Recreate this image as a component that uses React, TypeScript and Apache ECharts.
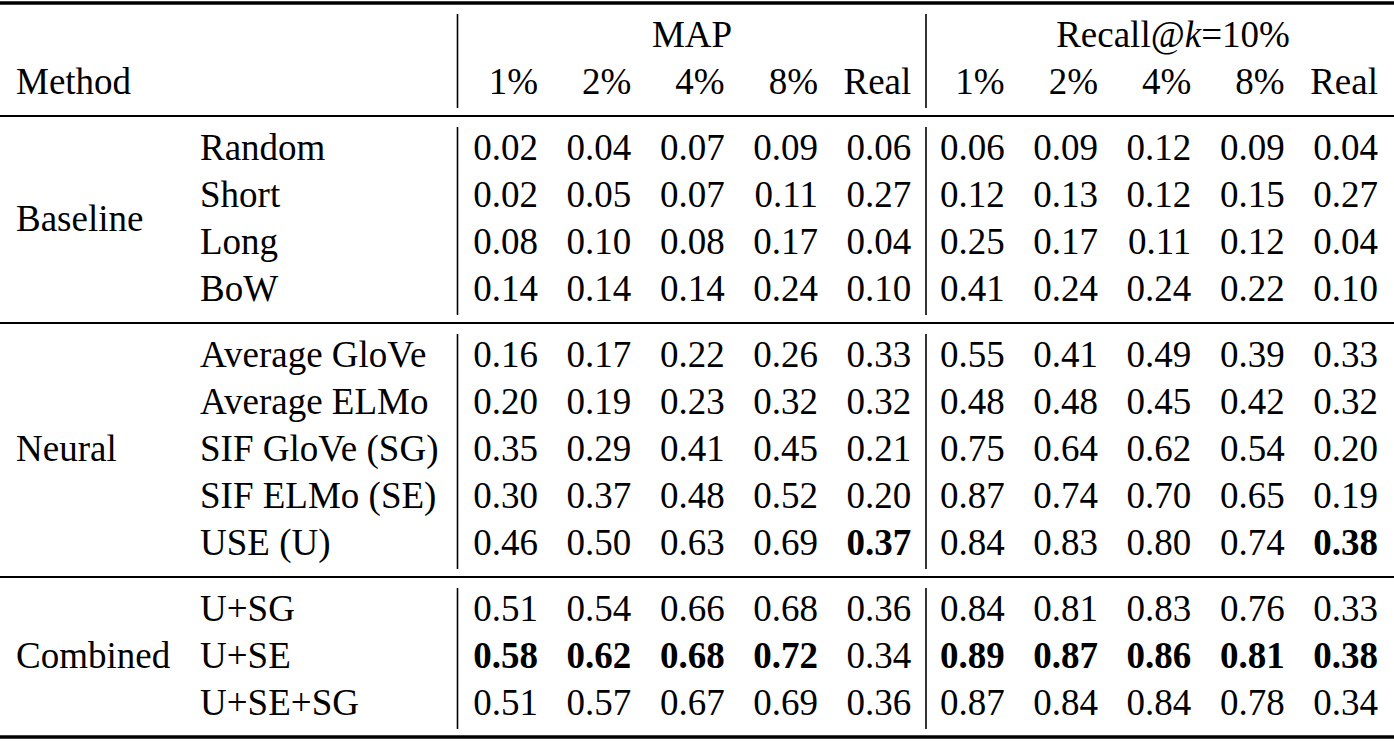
import React, { useEffect, useRef } from 'react';
import * as echarts from 'echarts';

// ---- table content ----
const groupNames = ['Baseline', 'Neural', 'Combined'];
const groupSizes = [4, 5, 3];
const methodNames = [
  'Random', 'Short', 'Long', 'BoW',
  'Average GloVe', 'Average ELMo', 'SIF GloVe (SG)', 'SIF ELMo (SE)', 'USE (U)',
  'U+SG', 'U+SE', 'U+SE+SG',
];
const columnLabels = ['1%', '2%', '4%', '8%', 'Real'];

const mapValues = [
  [0.02, 0.04, 0.07, 0.09, 0.06],
  [0.02, 0.05, 0.07, 0.11, 0.27],
  [0.08, 0.10, 0.08, 0.17, 0.04],
  [0.14, 0.14, 0.14, 0.24, 0.10],
  [0.16, 0.17, 0.22, 0.26, 0.33],
  [0.20, 0.19, 0.23, 0.32, 0.32],
  [0.35, 0.29, 0.41, 0.45, 0.21],
  [0.30, 0.37, 0.48, 0.52, 0.20],
  [0.46, 0.50, 0.63, 0.69, 0.37],
  [0.51, 0.54, 0.66, 0.68, 0.36],
  [0.58, 0.62, 0.68, 0.72, 0.34],
  [0.51, 0.57, 0.67, 0.69, 0.36],
];

const recallValues = [
  [0.06, 0.09, 0.12, 0.09, 0.04],
  [0.12, 0.13, 0.12, 0.15, 0.27],
  [0.25, 0.17, 0.11, 0.12, 0.04],
  [0.41, 0.24, 0.24, 0.22, 0.10],
  [0.55, 0.41, 0.49, 0.39, 0.33],
  [0.48, 0.48, 0.45, 0.42, 0.32],
  [0.75, 0.64, 0.62, 0.54, 0.20],
  [0.87, 0.74, 0.70, 0.65, 0.19],
  [0.84, 0.83, 0.80, 0.74, 0.38],
  [0.84, 0.81, 0.83, 0.76, 0.33],
  [0.89, 0.87, 0.86, 0.81, 0.38],
  [0.87, 0.84, 0.84, 0.78, 0.34],
];

// [row, col] of bold (best) entries
const mapBest = [[8, 4], [10, 0], [10, 1], [10, 2], [10, 3]];
const recallBest = [[8, 4], [10, 0], [10, 1], [10, 2], [10, 3], [10, 4]];

// ---- layout ----
const W = 1394;
const H = 741;
const FAMILY = "'Liberation Serif', 'Times New Roman', serif";
const FS = 37;
const font = (weight: string, style = 'normal') => `${style} ${weight} ${FS}px ${FAMILY}`;
const LINE = 47; // baseline to baseline
const RULE_BELOW = 22; // last baseline -> rule
const RULE_ABOVE = 44; // rule -> next baseline
const RULE_GAP = (RULE_BELOW + RULE_ABOVE - LINE) / LINE;
const BASE_SHIFT = 12.5; // svg "central" baseline sits this far above the alphabetic one
const FIRST_RIGHT = 538;
const LAST_RIGHT = 1378;
const COL_PITCH = (LAST_RIGHT - FIRST_RIGHT) / 9;
const colX = (px: number) => (px - FIRST_RIGHT) / COL_PITCH;
const METHOD_X = colX(16);
const SUB_X = colX(200);
const VLINES = [colX(457.5), colX(926)];
const MAP_CENTER = colX(692);
const RECALL_CENTER = colX(1173);

type Cell = { x: number; v: number; text: string; bold?: boolean; align: string; rich?: boolean };
type Rule = { x: number; v: number; v2?: number; w: number; vertical: boolean };

function buildCells() {
  const cells: Cell[] = [];
  const rules: Rule[] = [];
  // header
  cells.push({ x: MAP_CENTER, v: 0, text: 'MAP', align: 'center' });
  cells.push({ x: RECALL_CENTER, v: 0, text: 'Recall@{i|k}=10%', align: 'center', rich: true });
  cells.push({ x: METHOD_X, v: 1, text: 'Method', align: 'left' });
  for (let k = 0; k < 10; k++) {
    cells.push({ x: k, v: 1, text: columnLabels[k % 5], align: 'right' });
  }
  rules.push({ x: 0, v: -RULE_ABOVE / LINE, w: 3.5, vertical: false });
  rules.push({ x: 0, v: 1 + RULE_BELOW / LINE, w: 2, vertical: false });
  VLINES.forEach((x) => rules.push({ x, v: -33 / LINE, v2: 1 + 14 / LINE, w: 1.6, vertical: true }));

  let r = 0;
  groupNames.forEach((g, gi) => {
    const rows: number[] = [];
    for (let j = 0; j < groupSizes[gi]; j++) {
      const v = 2 + r + (gi + 1) * RULE_GAP;
      rows.push(v);
      cells.push({ x: SUB_X, v, text: methodNames[r], align: 'left' });
      for (let c = 0; c < 5; c++) {
        cells.push({
          x: c, v, text: mapValues[r][c].toFixed(2), align: 'right',
          bold: mapBest.some(([br, bc]) => br === r && bc === c),
        });
        cells.push({
          x: c + 5, v, text: recallValues[r][c].toFixed(2), align: 'right',
          bold: recallBest.some(([br, bc]) => br === r && bc === c),
        });
      }
      r++;
    }
    const first = rows[0];
    const last = rows[rows.length - 1];
    cells.push({ x: METHOD_X, v: (first + last) / 2, text: g, align: 'left' });
    const isLast = gi === groupNames.length - 1;
    rules.push({ x: 0, v: last + RULE_BELOW / LINE, w: isLast ? 3.5 : 2, vertical: false });
    VLINES.forEach((x) => rules.push({ x, v: first - 33 / LINE, v2: last + 14 / LINE, w: 1.6, vertical: true }));
  });
  return { cells, rules };
}

const App = () => {
  const chartRef = useRef<HTMLDivElement>(null);

  useEffect(() => {
    if (!chartRef.current) return;
    document.body.style.margin = '0';
    const { cells, rules } = buildCells();
    const chart = echarts.init(chartRef.current, undefined, { renderer: 'svg' });

    chart.setOption({
      animation: false,
      backgroundColor: '#fff',
      textStyle: { fontFamily: FAMILY },
      grid: { left: 0, right: 0, top: 0, bottom: 0 },
      xAxis: { type: 'value', min: colX(0), max: colX(W), show: false },
      yAxis: { type: 'value', min: -1, max: H / LINE - 1, inverse: true, show: false },
      series: [
        {
          type: 'custom',
          data: rules.map((d) => [d.x, d.v]),
          renderItem: (params: any, api: any) => {
            const d = rules[params.dataIndex];
            const p = api.coord([d.x, d.v]);
            if (d.vertical) {
              const p2 = api.coord([d.x, d.v2]);
              return {
                type: 'line',
                shape: { x1: p[0], y1: p[1], x2: p2[0], y2: p2[1] },
                style: { stroke: '#000', lineWidth: d.w },
              };
            }
            return {
              type: 'line',
              shape: { x1: 0, y1: p[1], x2: W, y2: p[1] },
              style: { stroke: '#000', lineWidth: d.w },
            };
          },
        },
        {
          type: 'custom',
          data: cells.map((d) => [d.x, d.v]),
          renderItem: (params: any, api: any) => {
            const d = cells[params.dataIndex];
            const p = api.coord([d.x, d.v]);
            return {
              type: 'text',
              x: p[0],
              y: p[1] - BASE_SHIFT,
              style: {
                text: d.text,
                font: font(d.bold ? 'bold' : 'normal'),
                fill: '#000',
                align: d.align,
                verticalAlign: 'middle',
                rich: d.rich
                  ? { i: { font: font('normal', 'italic'), fill: '#000' } }
                  : undefined,
              },
            };
          },
        },
      ],
    });

    return () => {
      chart.dispose();
    };
  }, []);

  return <div ref={chartRef} style={{ width: W, height: H }} />;
};

export default App;
